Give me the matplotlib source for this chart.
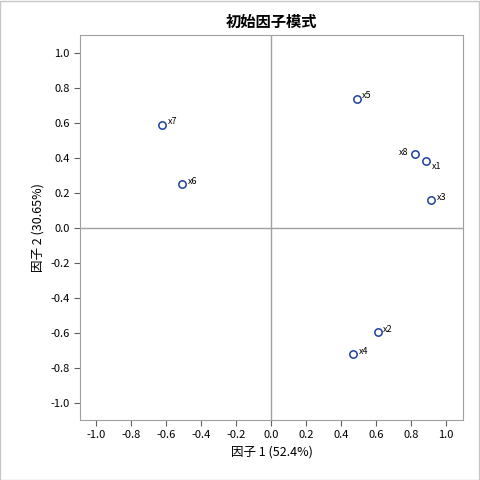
import matplotlib
matplotlib.use("Agg")
import matplotlib.pyplot as plt
from matplotlib.patches import Rectangle

plt.rcParams['font.family'] = ['Noto Sans CJK JP', 'DejaVu Sans']

names = ['x1','x2','x3','x4','x5','x6','x7','x8']
f1 = [0.885, 0.61, 0.915, 0.47, 0.49, -0.505, -0.62, 0.825]
f2 = [0.385, -0.595, 0.16, -0.72, 0.74, 0.25, 0.59, 0.425]
ticks = [-1.0,-0.8,-0.6,-0.4,-0.2,0.0,0.2,0.4,0.6,0.8,1.0]

fig = plt.figure(figsize=(4.8,4.8), dpi=100)
fig.patches.append(Rectangle((0.001, 0.001), 0.997, 0.997, transform=fig.transFigure,
                             fill=False, edgecolor='#c8c8c8', lw=1))
ax = fig.add_axes([80/480, 60/480, 383/480, 385/480])
ax.axhline(0, color='#a0a0a0', lw=1, zorder=1)
ax.axvline(0, color='#a0a0a0', lw=1, zorder=1)
ax.scatter(f1, f2, s=28, facecolors='white', edgecolors='#1f3fa0', linewidths=1.1, zorder=3)
for n, a, b in zip(names, f1, f2):
    if n == 'x8':
        ax.annotate(n, (a, b), xytext=(-5, 1), textcoords='offset points', ha='right', va='center', fontsize=6.5)
    elif n == 'x1':
        ax.annotate(n, (a, b), xytext=(4, -4), textcoords='offset points', ha='left', va='center', fontsize=6.5)
    else:
        ax.annotate(n, (a, b), xytext=(4, 2), textcoords='offset points', ha='left', va='center', fontsize=6.5)
ax.set_xlim(-1.09, 1.097)
ax.set_ylim(-1.097, 1.103)
ax.set_xticks(ticks)
ax.set_yticks(ticks)
ax.set_xticklabels([f"{t:.1f}" for t in ticks], fontsize=8)
ax.set_yticklabels([f"{t:.1f}" for t in ticks], fontsize=8)
for s in ax.spines.values():
    s.set_color('#a0a0a0')
ax.tick_params(color='#606060', length=4)
ax.set_xlabel('因子 1 (52.4%)', fontsize=9)
ax.set_ylabel('因子 2 (30.65%)', fontsize=9)
ax.set_title('初始因子模式', fontsize=11, fontweight='bold', pad=6)
fig.savefig('out.png', dpi=100)
